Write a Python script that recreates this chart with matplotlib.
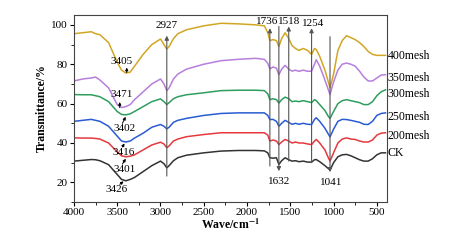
import matplotlib
matplotlib.use("Agg")
import matplotlib.pyplot as plt
from matplotlib.ticker import MultipleLocator

plt.rcParams['font.family'] = ['Liberation Serif', 'DejaVu Serif']
plt.rcParams['mathtext.fontset'] = 'stix'

wave = [4000, 3900, 3800, 3750, 3700, 3600, 3500, 3450, 3400, 3350, 3300, 3200, 3100,
        3000, 2960, 2927, 2900, 2850, 2800, 2700, 2500, 2300, 2100, 1900, 1800, 1760,
        1736, 1700, 1660, 1632, 1600, 1560, 1518, 1480, 1440, 1400, 1350, 1300, 1254,
        1220, 1200, 1160, 1100, 1060, 1041, 1000, 950, 900, 850, 800, 750, 700, 650,
        600, 550, 500, 450, 400]

t_400 = [95.5, 96, 96.5, 95.5, 95, 91, 81, 77, 75.5, 76, 79, 85, 90,
         92.8, 90, 87.7, 89, 93, 95.5, 97.5, 99.5, 100.8, 100.5, 100, 99.5, 96,
         92, 92.5, 92, 89, 93, 96, 93, 89.5, 88, 87, 88, 87, 85,
         88, 87.5, 84, 77, 71, 68, 75, 87, 92, 94.5, 93.5, 92.5, 91, 89,
         86.5, 85, 84.5, 84.5, 84.5]
t_350 = [71.5, 72.5, 73, 73.5, 72, 68, 59.5, 58, 58.5, 59.5, 62, 66, 70,
         72.5, 70, 66.6, 68, 72.5, 75, 77.5, 80, 81.8, 82.5, 83, 82.5, 80.5,
         77.6, 78.6, 78, 74.7, 77.5, 79.4, 77.5, 76.5, 77, 76.4, 77, 76.4, 76.5,
         80, 82.3, 79, 72, 67, 64.6, 71, 77, 80, 80.6, 80, 79, 76.5, 73.5,
         71.5, 71.5, 73, 74.5, 74.7]
t_300 = [64.6, 64.5, 64.5, 64, 63.5, 61, 56, 54.5, 54.3, 54.8, 56, 58.5, 61,
         62.4, 61, 59.5, 60.5, 62.5, 63.5, 64.5, 65.5, 66.6, 66.8, 66.8, 66.6, 65,
         62, 62.5, 62, 60.3, 62, 63.3, 62.5, 61, 61.3, 61, 61.5, 61, 60.5,
         62, 61.5, 59.5, 56.5, 53.5, 52.5, 56, 60, 61.5, 62, 61.5, 61, 60.5, 59.5,
         59.5, 61, 64, 66, 67]
t_250 = [51, 51.5, 52, 51.5, 51, 48.5, 43.5, 41, 40.5, 41, 42.5, 45, 48,
         49.4, 48.5, 47.2, 48, 50.5, 51.5, 52.5, 54, 55, 55.3, 55.3, 55.3, 54,
         51.9, 52, 51, 48.5, 50, 51.5, 50.5, 49.5, 50, 49.5, 50, 49.5, 49.4,
         52, 52.8, 51, 47.5, 44.5, 43.1, 47, 51, 52, 51.9, 51.5, 51, 50.5, 49.5,
         49.4, 51, 54, 55, 55.3]
t_200 = [42.6, 42.5, 42.5, 42.3, 42, 40, 35.5, 33.5, 33, 33.3, 34, 36.5, 39,
         40.4, 39.5, 37.6, 38.5, 41, 42, 43.2, 44.3, 45.2, 45.2, 45.2, 45.2, 44,
         41, 41.5, 41, 39.2, 40.5, 41.8, 41, 40, 40.5, 40, 40, 39.5, 39.2,
         41, 41.8, 40, 36.5, 32.5, 30.8, 35, 40, 42, 42.6, 42, 41.8, 41, 40.5,
         40.5, 41.5, 44, 45, 45.2]
t_ck = [30.8, 31.2, 31.6, 31.5, 31, 29, 24, 21.5, 20.8, 21.5, 22.5, 25.5, 28.5,
        30.8, 29.5, 27.4, 28.5, 31, 32.5, 33.8, 35, 35.9, 36.2, 36.2, 36, 35,
        32.5, 32.3, 32.5, 29.1, 31, 32.5, 31.5, 30.8, 31, 30.5, 30.8, 30.3, 30.3,
        31.5, 31.6, 30.5, 28.5, 27, 26.3, 30, 33, 34, 34.2, 33.5, 32.5, 31.5, 30.8,
        30.8, 32, 34, 35, 35]

series_names = ['400mesh', '350mesh', '300mesh', '250mesh', '200mesh', 'CK']
series_vals = [t_400, t_350, t_300, t_250, t_200, t_ck]
colors = ['#D2A624', '#B77FDD', '#2E9E5E', '#2A5BD3', '#E5393E', '#333333']
label_y = [84.3, 73.2, 65.1, 53.4, 43.3, 34.8]

peak_labels = ['3405', '3471', '3402', '3416', '3401', '3426']
peak_text_xy = [(3450, 81.5), (3450, 64.4), (3420, 47.2), (3420, 35.4), (3420, 26.6), (3510, 16.5)]
peak_arrow_from = [(3390, 75.8), (3471, 58.0), (3440, 50.0), (3440, 38.0), (3440, 29.3), (3470, 19.0)]
peak_arrow_to = [(3390, 78.3), (3471, 60.8), (3402, 53.3), (3416, 39.8), (3401, 32.0), (3426, 20.5)]

fig = plt.figure(figsize=(4.74, 2.42), dpi=100)
ax = fig.add_axes([0.156, 0.165, 0.66, 0.773])

for name, vals, c in zip(series_names, series_vals, colors):
    ax.plot(wave, vals, color=c, lw=1.1)

ax.set_xlim(4000, 385)
ax.set_ylim(10, 105)
ax.xaxis.set_major_locator(MultipleLocator(500))
ax.xaxis.set_minor_locator(MultipleLocator(250))
ax.yaxis.set_major_locator(MultipleLocator(20))
ax.yaxis.set_minor_locator(MultipleLocator(10))
ax.tick_params(which='both', direction='out', labelsize=8, pad=1.5)
ax.tick_params(which='major', length=3, width=0.8)
ax.tick_params(which='minor', length=2, width=0.6)
for s in ax.spines.values():
    s.set_color('#444444')
    s.set_linewidth(0.8)

ax.set_xlabel('Wave/cm$^{\\mathbf{-1}}$', fontsize=8.5, fontweight='bold', labelpad=0)
ax.set_ylabel('Transmittance/%', fontsize=8.5, fontweight='bold', labelpad=2)

# series labels at the right
for name, y in zip(series_names, label_y):
    ax.text(1.003, (y - 10) / 95, name, transform=ax.transAxes, fontsize=8.5,
            va='center', ha='left')

# peak labels on the left
for lab, txy, a0, a1 in zip(peak_labels, peak_text_xy, peak_arrow_from, peak_arrow_to):
    ax.text(txy[0], txy[1], lab, fontsize=8, ha='center', va='center')
    ax.annotate('', xy=a1, xytext=a0,
                arrowprops=dict(arrowstyle='-|>', color='black', lw=0.7,
                                mutation_scale=4, shrinkA=0, shrinkB=0))

# vertical marker lines: (wave, low, high, arrow direction)
vlines = [(2927, 23.2, 94.5, 'up'), (1736, 28.3, 98.3, 'up'), (1632, 25.7, 99.2, 'down'),
          (1518, 30.8, 99.2, 'up'), (1254, 30.0, 98.3, 'up'), (1041, 25.2, 94.0, 'down')]
for x, lo, hi, d in vlines:
    if d == 'up':
        ax.annotate('', xy=(x, hi), xytext=(x, lo),
                    arrowprops=dict(arrowstyle='-|>', color='#555555', lw=0.8,
                                    mutation_scale=6, shrinkA=0, shrinkB=0))
    else:
        ax.annotate('', xy=(x, lo), xytext=(x, hi),
                    arrowprops=dict(arrowstyle='-|>', color='#555555', lw=0.8,
                                    mutation_scale=6, shrinkA=0, shrinkB=0))

vl_text = ['2927', '1736', '1518', '1254', '1632', '1041']
vl_text_xy = [(2927, 99.6), (1762, 101.7), (1510, 101.7), (1240, 100.9), (1624, 20.7), (1028, 19.8)]
for t, (x, y) in zip(vl_text, vl_text_xy):
    ax.text(x, y, t, fontsize=8, ha='center', va='center')

fig.savefig('out.png', dpi=100)
